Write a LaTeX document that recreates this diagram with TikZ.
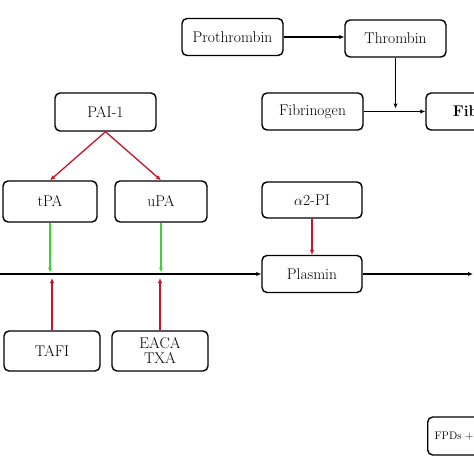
\documentclass[tikz,border=0pt]{standalone}
\usetikzlibrary{arrows.meta}
\definecolor{inhib}{RGB}{200,20,40}
\definecolor{activ}{RGB}{70,205,60}
\begin{document}
\begin{tikzpicture}[x=1pt,y=-1pt,
  box/.style={draw=black,line width=1.4pt,rounded corners=5pt,fill=white,
    inner sep=0pt,font=\fontsize{15.5}{17}\selectfont},
  arr/.style={line width=1.3pt,-{Latex[length=5pt,width=4.5pt]}},
  redarr/.style={arr,draw=inhib,-{Latex[length=5pt,width=4.5pt,color=inhib]}},
  greenarr/.style={arr,draw=activ,-{Latex[length=5pt,width=4.5pt,color=activ]}}]
\useasboundingbox (0,0) rectangle (474,474);
\clip (0,0) rectangle (474,474);
\node[box,minimum width=101pt,minimum height=37pt] (proth) at (232.5,37) {Prothrombin};
\node[box,minimum width=101pt,minimum height=37pt] (thromb) at (395.5,38.5) {Thrombin};
\node[box,minimum width=101pt,minimum height=37pt] (fibgen) at (312.5,111.5) {Fibrinogen};
\node[box,minimum width=101pt,minimum height=37pt,font=\fontsize{15.5}{17}\selectfont\bfseries] (fibrin) at (476.5,111.5) {Fibrin};
\node[box,minimum width=101pt,minimum height=38pt] (pai) at (105.5,112) {PAI-1};
\node[box,minimum width=94pt,minimum height=41pt] (tpa) at (50,201.5) {tPA};
\node[box,minimum width=92pt,minimum height=41pt] (upa) at (161,201.5) {uPA};
\node[box,minimum width=100pt,minimum height=36pt] (api) at (312,200) {$\alpha$2-PI};
\node[box,minimum width=100pt,minimum height=37pt] (plasmin) at (312,274) {Plasmin};
\node[box,minimum width=96pt,minimum height=40pt] (tafi) at (52,351) {TAFI};
\node[box,minimum width=96pt,minimum height=40pt,align=center,
  font=\fontsize{15.5}{15}\selectfont] (eaca) at (160,351) {EACA\\TXA};
\node[box,minimum width=101pt,minimum height=38pt,anchor=west,text width=95pt,
  align=left,font=\fontsize{11}{12}\selectfont] (fpd) at (427,436) {\hspace*{4pt}FPDs +};
\coordinate (lin) at (0,274);
\coordinate (rout) at (473,274);
\coordinate (join) at (thromb.south |- fibgen.east);
\draw[arr] (proth.east) -- (proth.east -| thromb.west);
\draw[arr,shorten >=3pt] (thromb.south) -- (join);
\draw[arr] (fibgen.east) -- (fibrin.west);
\draw[redarr] (pai.south) -- (tpa.north);
\draw[redarr] (pai.south) -- (upa.north);
\draw[arr] (lin) -- (plasmin.west);
\draw[arr] (plasmin.east) -- (rout);
\draw[greenarr,shorten >=1.5pt] (tpa.south) -- (tpa.south |- lin);
\draw[greenarr,shorten >=1.5pt] (upa.south) -- (upa.south |- lin);
\draw[redarr,shorten >=4pt] (tafi.north) -- (tafi.north |- lin);
\draw[redarr,shorten >=4pt] (eaca.north) -- (eaca.north |- lin);
\draw[redarr] (api.south) -- (plasmin.north);
\end{tikzpicture}
\end{document}
